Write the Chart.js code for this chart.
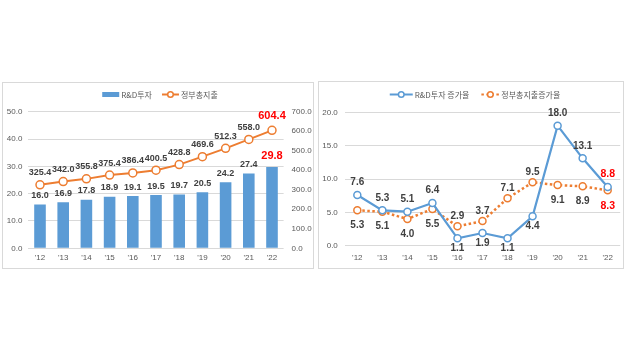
<!DOCTYPE html>
<html><head><meta charset="utf-8">
<script src="https://cdn.jsdelivr.net/npm/chart.js@4.4.0/dist/chart.umd.min.js"></script>
<style>
html,body{margin:0;padding:0;background:#fff;width:626px;height:352px;overflow:hidden}
.panel{position:absolute;border:1px solid #D9D9D9;box-sizing:border-box}
canvas{position:absolute;top:0}
</style></head><body>
<div class="panel" style="left:2px;top:82px;width:312px;height:187px"></div>
<div class="panel" style="left:318px;top:81px;width:306px;height:188px"></div>
<canvas id="c1" width="313" height="352" style="left:0"></canvas>
<canvas id="c2" width="313" height="352" style="left:313px"></canvas>
<script>
// ---- data ----
const years = ["'12","'13","'14","'15","'16","'17","'18","'19","'20","'21","'22"];
const rdInvestment = [16.0,16.9,17.8,18.9,19.1,19.5,19.7,20.5,24.2,27.4,29.8];
const govExpenditure = [325.4,342.0,355.8,375.4,386.4,400.5,428.8,469.6,512.3,558.0,604.4];
const rdGrowth = [7.6,5.3,5.1,6.4,1.1,1.9,1.1,4.4,18.0,13.1,8.8];
const govGrowth = [5.3,5.1,4.0,5.5,2.9,3.7,7.1,9.5,9.1,8.9,8.3];
const seriesNames = {rd:'R&D투자', gov:'정부총지출', rdG:'R&D투자 증가율', govG:'정부총지출증가율'};

// label sides (placement config, not data)
const rdGrowthSides = ['a','a','a','a','b','b','b','b','a','a','a'];
const govGrowthSides = ['b','b','b','b','a','a','a','a','b','b','b'];

const BLUE='#5B9BD5', ORANGE='#ED7D31', GRID='#D9D9D9', TICK='#595959';

Chart.defaults.font.family = '"Liberation Sans", Arial, sans-serif';
Chart.defaults.animation = false;

const valueLabels = {
  id:'valueLabels',
  afterDatasetsDraw(chart){
    const ctx = chart.ctx;
    chart.data.datasets.forEach((ds,di)=>{
      const cfg = ds.valueLabel; if(!cfg) return;
      const meta = chart.getDatasetMeta(di);
      const last = ds.data.length-1;
      meta.data.forEach((el,i)=>{
        const hi = i===last;
        const side = cfg.sides ? cfg.sides[i] : 'a';
        let off = side==='a' ? -(hi?cfg.aboveHi:cfg.above) : (hi?cfg.belowHi:cfg.below);
        ctx.save();
        ctx.font = 'bold '+(hi?cfg.hiSize:cfg.size)+'px "Liberation Sans", Arial, sans-serif';
        ctx.fillStyle = hi ? '#FF0000' : '#404040';
        ctx.textAlign='center'; ctx.textBaseline='middle';
        ctx.fillText(ds.data[i].toFixed(1), el.x, el.y+off);
        ctx.restore();
      });
    });
  }
};

const customLegend = {
  id:'customLegend',
  afterDraw(chart, args, opts){
    const ctx = chart.ctx;
    ctx.save();
    ctx.font = '8px "Noto Sans CJK KR", sans-serif';
    ctx.textBaseline='middle';
    let total = 0;
    opts.items.forEach((it,k)=>{ total += it.sw + 2 + ctx.measureText(it.text).width + (k? opts.gap:0); });
    let x = opts.cx - total/2, y = opts.y;
    opts.items.forEach((it,k)=>{
      if(k) x += opts.gap;
      if(it.kind==='box'){
        ctx.fillStyle = it.color; ctx.fillRect(x, y-2.5, it.sw, 5);
      } else {
        ctx.strokeStyle = it.color; ctx.lineWidth = 2;
        ctx.setLineDash(it.dash||[]);
        ctx.beginPath(); ctx.moveTo(x,y); ctx.lineTo(x+it.sw,y); ctx.stroke();
        ctx.setLineDash([]);
        ctx.lineWidth=1.5; ctx.fillStyle='#fff';
        ctx.beginPath(); ctx.arc(x+it.sw/2,y,2.8,0,Math.PI*2); ctx.fill(); ctx.stroke();
      }
      x += it.sw + 2;
      ctx.fillStyle = TICK; ctx.textAlign='left';
      ctx.fillText(it.text, x, y+0.5);
      x += ctx.measureText(it.text).width;
    });
    ctx.restore();
  }
};

const tickFont = {size:8, family:'"Liberation Sans", Arial, sans-serif'};

new Chart(document.getElementById('c1'), {
  data:{
    labels: years,
    datasets:[
      {type:'line', label:seriesNames.gov, data:govExpenditure, yAxisID:'y1', order:0,
       borderColor:ORANGE, borderWidth:2, pointRadius:4, pointBorderWidth:1.5,
       pointBackgroundColor:'#fff', pointBorderColor:ORANGE, tension:0,
       valueLabel:{size:9, hiSize:11, above:12, aboveHi:14.3}},
      {type:'bar', label:seriesNames.rd, data:rdInvestment, yAxisID:'y', order:1,
       backgroundColor:BLUE, categoryPercentage:1, barPercentage:0.5,
       valueLabel:{size:9, hiSize:11, above:9, aboveHi:10.7}}
    ]
  },
  options:{
    responsive:false, devicePixelRatio:1,
    layout:{padding:{top:111.7, bottom:352-248.3-26, left:0, right:0}},
    plugins:{legend:{display:false}, tooltip:{enabled:false},
      customLegend:{cx:160, y:94.5, gap:10, items:[
        {kind:'box', text:seriesNames.rd, color:BLUE, sw:17},
        {kind:'line', text:seriesNames.gov, color:ORANGE, sw:17}
      ]}},
    scales:{
      x:{offset:true, grid:{display:false, drawTicks:false}, border:{display:false},
         ticks:{font:tickFont, color:TICK, padding:5, maxRotation:0},
         afterFit(s){ s.height = 26; }},
      y:{position:'left', min:0, max:50, ticks:{stepSize:10, font:tickFont, color:TICK, padding:6,
           callback:v=>v.toFixed(1)},
         grid:{color:GRID, drawTicks:false}, border:{display:false},
         afterFit(s){ s.width = 28.4; }},
      y1:{position:'right', min:0, max:700, ticks:{stepSize:100, font:tickFont, color:TICK, padding:8,
           callback:v=>v.toFixed(1)},
         grid:{display:false, drawTicks:false}, border:{display:false},
         afterFit(s){ s.width = 313-283.6; }}
    }
  },
  plugins:[valueLabels, customLegend]
});

new Chart(document.getElementById('c2'), {
  type:'line',
  data:{
    labels: years,
    datasets:[
      {label:seriesNames.rdG, data:rdGrowth, borderColor:BLUE, borderWidth:2.2,
       pointRadius:3.5, pointBorderWidth:1.5, pointBackgroundColor:'#fff', pointBorderColor:BLUE, tension:0,
       valueLabel:{size:10, hiSize:10.5, above:12.5, aboveHi:12.5, below:10, belowHi:10, sides:rdGrowthSides}},
      {label:seriesNames.govG, data:govGrowth, borderColor:ORANGE, borderWidth:2.5, borderDash:[2.5,2.5],
       pointRadius:3.5, pointBorderWidth:1.5, pointBackgroundColor:'#fff', pointBorderColor:ORANGE, tension:0,
       valueLabel:{size:10, hiSize:10.5, above:10, aboveHi:10, below:15, belowHi:15.3, sides:govGrowthSides}}
    ]
  },
  options:{
    responsive:false, devicePixelRatio:1,
    layout:{padding:{top:112.3, bottom:352-245.7-26, left:0, right:5.8}},
    plugins:{legend:{display:false}, tooltip:{enabled:false},
      customLegend:{cx:162, y:94.5, gap:12, items:[
        {kind:'line', text:seriesNames.rdG, color:BLUE, sw:23},
        {kind:'line', text:seriesNames.govG, color:ORANGE, sw:18, dash:[2.5,2.5]}
      ]}},
    scales:{
      x:{offset:true, grid:{display:false, drawTicks:false}, border:{display:false},
         ticks:{font:tickFont, color:TICK, padding:7.5, maxRotation:0},
         afterFit(s){ s.height = 26; }},
      y:{min:0, max:20, ticks:{stepSize:5, font:tickFont, color:TICK, padding:7,
           callback:v=>v.toFixed(1)},
         grid:{color:GRID, drawTicks:false}, border:{display:false},
         afterFit(s){ s.width = 31.8; }}
    }
  },
  plugins:[valueLabels, customLegend]
});
</script>
</body></html>
